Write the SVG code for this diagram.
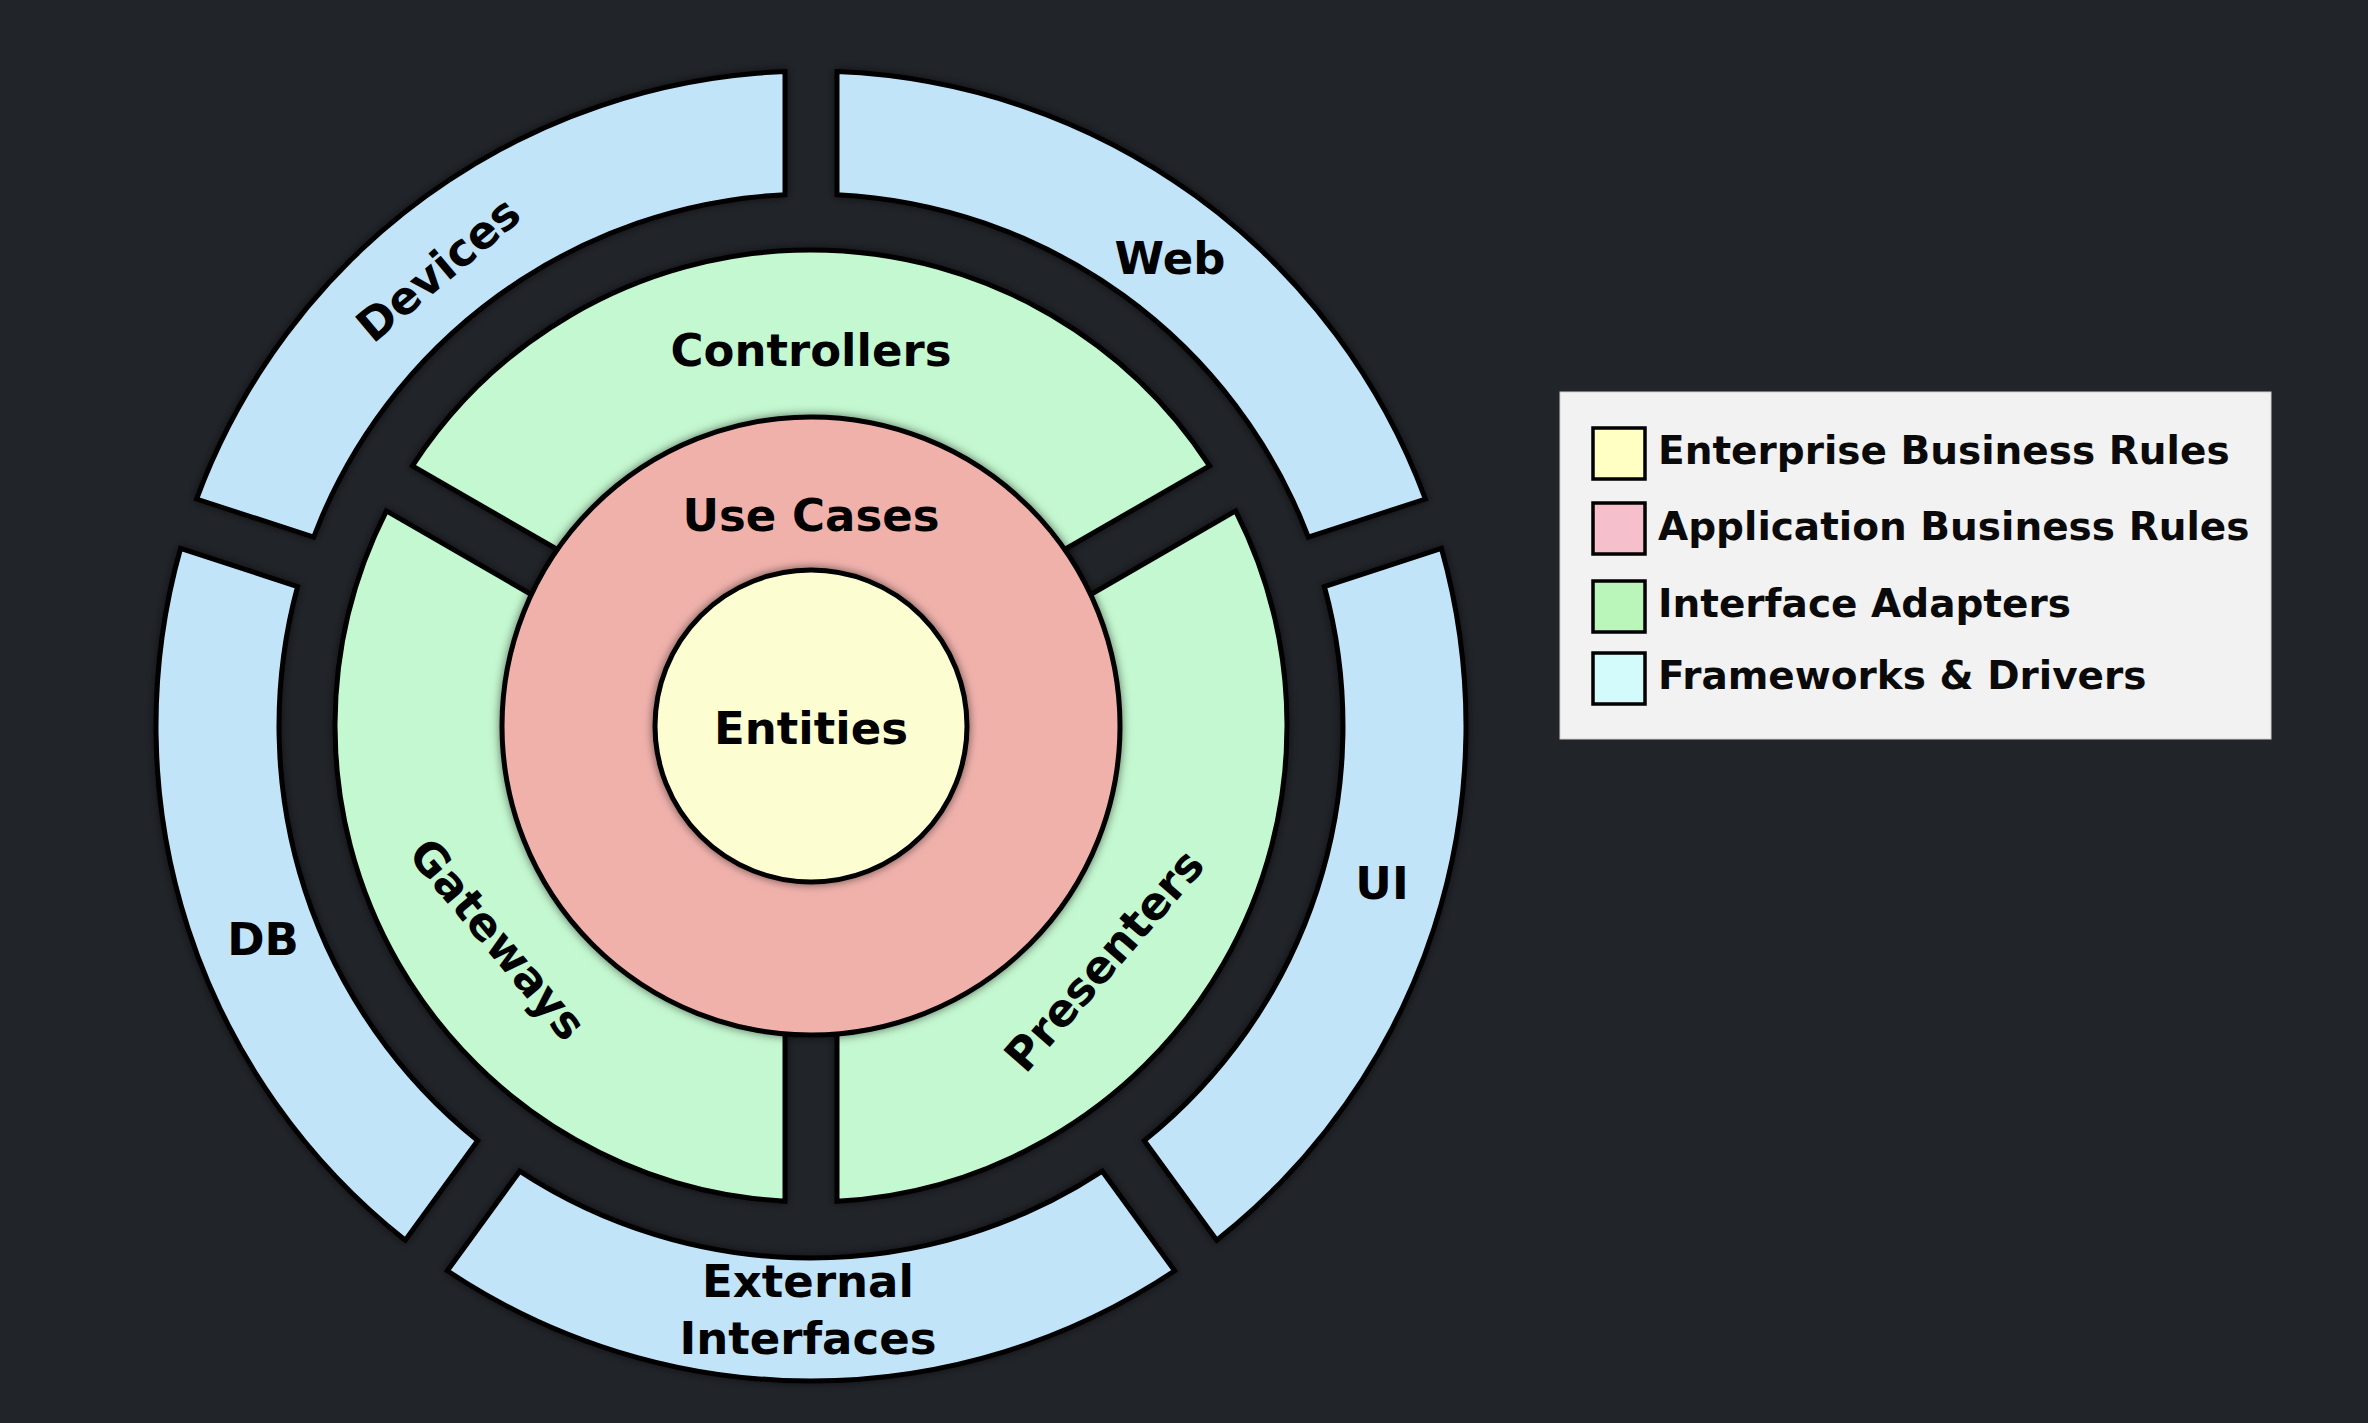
<svg xmlns="http://www.w3.org/2000/svg" width="2368" height="1423" viewBox="0 0 2368 1423">
<defs>
<filter id="sh" x="-20%" y="-20%" width="140%" height="140%">
<feDropShadow dx="0" dy="0" stdDeviation="5" flood-color="#000" flood-opacity="0.55"/>
</filter>
</defs>
<style>
.seg{stroke:#000;stroke-width:5;stroke-linejoin:miter}
.blue{fill:#c2e4f8}
.green{fill:#c4f8d0}
.pink{fill:#f0b1ab}
.yellow{fill:#fdfdd2}
.lbl{font-family:"DejaVu Sans","Liberation Sans",sans-serif;font-weight:bold;font-size:45px;fill:#000;text-anchor:middle}
.leg{font-family:"DejaVu Sans","Liberation Sans",sans-serif;font-weight:bold;font-size:39px;fill:#0a0a0a}
.sw{stroke:#000;stroke-width:3.5}
</style>
<rect x="0" y="0" width="2368" height="1423" fill="#212429"/>

<g id="web"><path class="seg blue" filter="url(#sh)" d="M837,71.52 A655,655 0 0,1 1425.42,499.02 L1308.32,537.07 A532,532 0 0,0 837,194.64 Z"/><text class="lbl" x="1170" y="274">Web</text></g>
<g id="ui"><path class="seg blue" filter="url(#sh)" d="M1441.48,548.48 A655,655 0 0,1 1216.73,1240.21 L1144.36,1140.60 A532,532 0 0,0 1324.38,586.53 Z"/><text class="lbl" x="1382" y="899">UI</text></g>
<g id="external-interfaces"><path class="seg blue" filter="url(#sh)" d="M1174.67,1270.77 A655,655 0 0,1 447.33,1270.77 L519.70,1171.16 A532,532 0 0,0 1102.30,1171.16 Z"/><text class="lbl" x="808" y="1297">External</text><text class="lbl" x="808" y="1354">Interfaces</text></g>
<g id="db"><path class="seg blue" filter="url(#sh)" d="M405.27,1240.21 A655,655 0 0,1 180.52,548.48 L297.62,586.53 A532,532 0 0,0 477.64,1140.60 Z"/><text class="lbl" x="263" y="955">DB</text></g>
<g id="devices"><path class="seg blue" filter="url(#sh)" d="M196.58,499.02 A655,655 0 0,1 785,71.52 L785,194.64 A532,532 0 0,0 313.68,537.07 Z"/><text class="lbl" transform="translate(438,269) rotate(-40)" x="0" y="16">Devices</text></g>

<g id="controllers"><path class="seg green" filter="url(#sh)" d="M412.40,465.83 A476,476 0 0,1 1209.60,465.83 L1061.17,551.53 A305,305 0 0,0 560.83,551.53 Z"/><text class="lbl" x="811" y="366">Controllers</text></g>
<g id="presenters"><path class="seg green" filter="url(#sh)" d="M1235.60,510.87 A476,476 0 0,1 837,1201.29 L837,1029.89 A305,305 0 0,0 1087.17,596.57 Z"/><text class="lbl" transform="translate(1104,960) rotate(-49)" x="0" y="16">Presenters</text></g>
<g id="gateways"><path class="seg green" filter="url(#sh)" d="M785,1201.29 A476,476 0 0,1 386.40,510.87 L534.83,596.57 A305,305 0 0,0 785,1029.89 Z"/><text class="lbl" transform="translate(498,939) rotate(50)" x="0" y="16">Gateways</text></g>

<g id="use-cases"><circle class="seg pink" filter="url(#sh)" cx="811" cy="726" r="309"/><text class="lbl" x="811" y="531">Use Cases</text></g>
<g id="entities"><circle class="seg yellow" filter="url(#sh)" cx="811" cy="726" r="156"/><text class="lbl" x="811" y="744">Entities</text></g>

<g id="legend">
<rect x="1560" y="392" width="711" height="347" fill="#f2f2f2" stroke="#d0d0d0" stroke-width="1"/>
<rect class="sw" x="1593" y="428" width="52" height="51" fill="#ffffc4"/>
<rect class="sw" x="1593" y="503" width="52" height="51" fill="#f5bfcc"/>
<rect class="sw" x="1593" y="581" width="52" height="51" fill="#baf5ba"/>
<rect class="sw" x="1593" y="653" width="52" height="51" fill="#d3fbfb"/>
<text class="leg" x="1658" y="464">Enterprise Business Rules</text>
<text class="leg" x="1658" y="540">Application Business Rules</text>
<text class="leg" x="1658" y="617">Interface Adapters</text>
<text class="leg" x="1658" y="689">Frameworks &amp; Drivers</text>
</g>
<g id="connectors"/>
</svg>
